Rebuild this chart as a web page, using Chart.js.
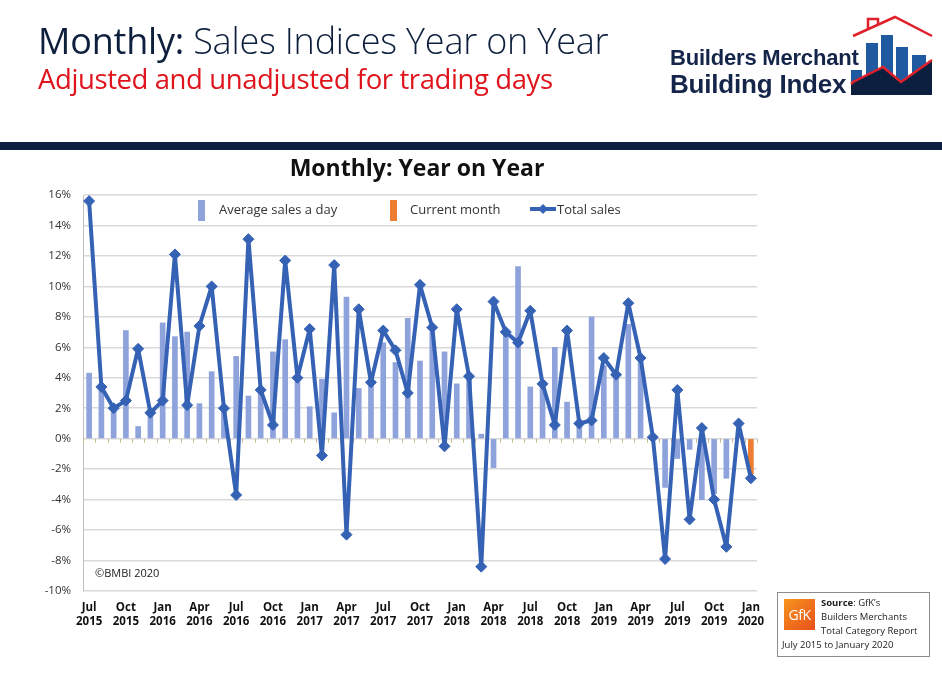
<!DOCTYPE html>
<html>
<head>
<meta charset="utf-8">
<script src="https://cdn.jsdelivr.net/npm/chart.js@4.4.1/dist/chart.umd.min.js"></script>
<style>
  html, body { margin: 0; padding: 0; background: #fff; }
  body { width: 942px; height: 675px; position: relative; overflow: hidden; font-family: "Open Sans", "Noto Sans", sans-serif; }
  #c { position: absolute; left: 0; top: 0; }
  .abs { position: absolute; white-space: nowrap; }
  #h1 { left: 38px; top: 16px; font-size: 36px; color: #0e1f3d; font-weight: 300; letter-spacing: -0.2px; }
  #h1 b { font-weight: 400; }
  #h2 { left: 38px; top: 60px; font-size: 27.5px; color: #e0141c; font-weight: 400; letter-spacing: -0.4px; }
  #band { left: 0; top: 142px; width: 942px; height: 8px; background: #0c1f3f; }
  #logo1 { left: 670px; top: 45px; font-family: "Liberation Sans Narrow", "Liberation Sans", Arial, sans-serif; font-weight: 700; font-size: 22px; color: #15254a; letter-spacing: -0.2px; }
  #logo2 { left: 670px; top: 69px; font-family: "Liberation Sans Narrow", "Liberation Sans", Arial, sans-serif; font-weight: 700; font-size: 26px; color: #15254a; letter-spacing: -0.2px; }
  #logoSvg { left: 846px; top: 14px; }
  #title { left: 417px; top: 151px; transform: translateX(-50%); font-size: 23px; font-weight: 700; color: #111; }
  #copy { left: 95px; top: 565px; font-size: 11px; color: #222; }
  #src { left: 777px; top: 592px; width: 153px; height: 65px; border: 1px solid #8c8c8c; box-sizing: border-box; }
  #gfk { left: 784px; top: 599px; width: 31px; height: 31px; background: linear-gradient(135deg, #f7941d, #e8501c); color: #fff; font-size: 14px; line-height: 31px; text-align: center; letter-spacing: -0.5px; }
  .st { font-size: 9.5px; color: #1a1a1a; }
</style>
</head>
<body>
<canvas id="c" width="942" height="675"></canvas>
<div id="h1" class="abs"><b>Monthly:</b> Sales Indices Year on Year</div>
<div id="h2" class="abs">Adjusted and unadjusted for trading days</div>
<div id="band" class="abs"></div>
<div id="logo1" class="abs">Builders Merchant</div>
<div id="logo2" class="abs">Building Index</div>
<svg id="logoSvg" class="abs" width="90" height="84" viewBox="0 0 90 84">
  <rect x="5" y="56" width="11" height="25" fill="#1f5aa0"/>
  <rect x="20" y="29" width="12" height="52" fill="#1f5aa0"/>
  <rect x="35" y="21" width="12" height="60" fill="#1f5aa0"/>
  <rect x="50" y="33" width="12" height="48" fill="#1f5aa0"/>
  <rect x="66" y="41" width="14" height="40" fill="#1f5aa0"/>
  <polyline points="7,22 49,3 86,22" fill="none" stroke="#e0202a" stroke-width="2.5"/>
  <polyline points="22,15.5 22,5 32,5 32,11" fill="none" stroke="#e0202a" stroke-width="2.5"/>
  <polygon points="5,81 5,70 7,68 37,53 55,68 86,46 86,81" fill="#0c1f3f"/>
  <polyline points="5,70 7,68 37,53 55,68 86,46" fill="none" stroke="#e0202a" stroke-width="2.5"/>
</svg>
<div id="title" class="abs">Monthly: Year on Year</div>
<div id="copy" class="abs">©BMBI 2020</div>
<div id="src" class="abs"></div>
<div id="gfk" class="abs">GfK</div>
<div class="abs st" style="left:821px;top:596px;"><b>Source</b>: GfK’s</div>
<div class="abs st" style="left:821px;top:610px;">Builders Merchants</div>
<div class="abs st" style="left:821px;top:624px;">Total Category Report</div>
<div class="abs st" style="left:782px;top:638px;">July 2015 to January 2020</div>

<script>
const categories = [
  'Jul 2015','Aug 2015','Sep 2015','Oct 2015','Nov 2015','Dec 2015',
  'Jan 2016','Feb 2016','Mar 2016','Apr 2016','May 2016','Jun 2016','Jul 2016','Aug 2016','Sep 2016','Oct 2016','Nov 2016','Dec 2016',
  'Jan 2017','Feb 2017','Mar 2017','Apr 2017','May 2017','Jun 2017','Jul 2017','Aug 2017','Sep 2017','Oct 2017','Nov 2017','Dec 2017',
  'Jan 2018','Feb 2018','Mar 2018','Apr 2018','May 2018','Jun 2018','Jul 2018','Aug 2018','Sep 2018','Oct 2018','Nov 2018','Dec 2018',
  'Jan 2019','Feb 2019','Mar 2019','Apr 2019','May 2019','Jun 2019','Jul 2019','Aug 2019','Sep 2019','Oct 2019','Nov 2019','Dec 2019',
  'Jan 2020'
];
const avgSalesDay = [
  4.3, 3.3, 1.9, 7.1, 0.8, 1.5,
  7.6, 6.7, 7.0, 2.3, 4.4, 1.8, 5.4, 2.8, 3.0, 5.7, 6.5, 3.9,
  2.1, 3.9, 1.7, 9.3, 3.3, 3.6, 6.3, 5.0, 7.9, 5.1, 7.0, 5.7,
  3.6, 3.9, 0.3, -1.9, 6.8, 11.3, 3.4, 3.4, 6.0, 2.4, 0.9, 8.0,
  4.8, 4.0, 7.5, 5.3, 0.1, -3.2, -1.3, -0.7, -4.0, -3.6, -2.6, 0.6,
  null
];
const currentMonth = [
  null, null, null, null, null, null,
  null, null, null, null, null, null, null, null, null, null, null, null,
  null, null, null, null, null, null, null, null, null, null, null, null,
  null, null, null, null, null, null, null, null, null, null, null, null,
  null, null, null, null, null, null, null, null, null, null, null, null,
  -2.3
];
const totalSales = [
  15.6, 3.4, 2.0, 2.5, 5.9, 1.7,
  2.5, 12.1, 2.2, 7.4, 10.0, 2.0, -3.7, 13.1, 3.2, 0.9, 11.7, 4.0,
  7.2, -1.1, 11.4, -6.3, 8.5, 3.7, 7.1, 5.8, 3.0, 10.1, 7.3, -0.5,
  8.5, 4.1, -8.4, 9.0, 7.0, 6.3, 8.4, 3.6, 0.9, 7.1, 1.0, 1.2,
  5.3, 4.2, 8.9, 5.3, 0.1, -7.9, 3.2, -5.3, 0.7, -4.0, -7.1, 1.0,
  -2.6
];
const yMin = -10, yMax = 16, yStep = 2;
const legendLabels = ['Average sales a day', 'Current month', 'Total sales'];

const BAR_BLUE = '#8ea2dc';
const ORANGE = '#ed7d31';
const LINE_BLUE = '#3562b4';

const extrasPlugin = {
  id: 'extras',
  beforeDatasetsDraw(chart) {
    const { ctx, chartArea } = chart;
    const y = chart.scales.y;
    const y0 = y.getPixelForValue(0);
    const n = categories.length;
    const w = (chartArea.right - chartArea.left) / n;
    ctx.save();
    ctx.strokeStyle = '#c8b795';
    ctx.lineWidth = 1;
    for (let i = 0; i <= n; i++) {
      const px = Math.round(chartArea.left + i * w) + 0.5;
      ctx.beginPath(); ctx.moveTo(px, y0); ctx.lineTo(px, y0 + 4); ctx.stroke();
    }
    ctx.restore();
  },
  afterDraw(chart) {
    const { ctx } = chart;
    ctx.save();
    ctx.font = '13px "Open Sans"';
    ctx.textBaseline = 'middle';
    ctx.fillStyle = BAR_BLUE;
    ctx.fillRect(198, 200, 7, 21);
    ctx.fillStyle = '#333';
    ctx.fillText(legendLabels[0], 219, 210);
    ctx.fillStyle = ORANGE;
    ctx.fillRect(390, 200, 7, 21);
    ctx.fillStyle = '#333';
    ctx.fillText(legendLabels[1], 410, 210);
    ctx.strokeStyle = LINE_BLUE;
    ctx.lineWidth = 4;
    ctx.beginPath(); ctx.moveTo(530, 209); ctx.lineTo(556, 209); ctx.stroke();
    ctx.fillStyle = LINE_BLUE;
    ctx.beginPath(); ctx.moveTo(538, 209); ctx.lineTo(543, 204); ctx.lineTo(548, 209); ctx.lineTo(543, 214); ctx.closePath(); ctx.fill();
    ctx.fillStyle = '#333';
    ctx.fillText(legendLabels[2], 557, 210);
    ctx.restore();
  }
};

new Chart(document.getElementById('c'), {
  type: 'bar',
  data: {
    labels: categories,
    datasets: [
      {
        type: 'line', label: legendLabels[2], data: totalSales, order: 0,
        borderColor: LINE_BLUE, backgroundColor: LINE_BLUE, borderWidth: 4,
        borderJoinStyle: 'round', borderCapStyle: 'round',
        pointStyle: 'rectRot', pointRadius: 5.5, pointBorderWidth: 1,
        pointBackgroundColor: LINE_BLUE, pointBorderColor: LINE_BLUE,
        tension: 0, fill: false
      },
      {
        label: legendLabels[0], data: avgSalesDay, order: 2,
        backgroundColor: BAR_BLUE, barThickness: 5, grouped: false
      },
      {
        label: legendLabels[1], data: currentMonth, order: 1,
        backgroundColor: ORANGE, barThickness: 5, grouped: false
      }
    ]
  },
  options: {
    responsive: false,
    animation: false,
    events: [],
    layout: { padding: { left: 30, right: 185, top: 195, bottom: 44 } },
    plugins: { legend: { display: false }, tooltip: { enabled: false }, title: { display: false } },
    scales: {
      x: {
        grid: { display: false },
        border: { display: false },
        ticks: {
          autoSkip: false, maxRotation: 0, minRotation: 0, padding: 2,
          color: '#111', font: { family: 'Open Sans', size: 11.5, weight: 'bold' },
          callback(val, idx) {
            if (idx % 3 !== 0) return '';
            return categories[idx].split(' ');
          }
        },
        afterFit(s) { s.height = 40; }
      },
      y: {
        min: yMin, max: yMax,
        grid: { color: '#d9d9d9', lineWidth: 1.5, drawTicks: false },
        border: { display: true, color: '#bfbfbf', width: 1 },
        ticks: {
          stepSize: yStep, padding: 12, color: '#333',
          font: { family: 'Open Sans', size: 11.5 },
          callback: v => v + '%'
        },
        afterFit(s) { s.width = 53; }
      }
    }
  },
  plugins: [extrasPlugin]
});
</script>
</body>
</html>
